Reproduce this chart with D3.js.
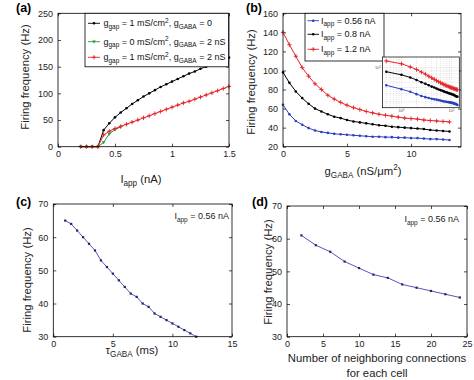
<!DOCTYPE html>
<html>
<head>
<meta charset="utf-8">
<script src="https://cdn.jsdelivr.net/npm/d3@7"></script>
<style>
  body { margin: 0; background: #fff; }
  svg { display: block; font-family: "Liberation Sans", Arial, sans-serif; }
</style>
</head>
<body>
<svg id="fig" width="474" height="380"></svg>
<script>
// ---- panel (a): firing frequency vs I_app ----
const iappA = [0.2, 0.25, 0.3, 0.35, 0.4, 0.45, 0.5, 0.55, 0.6, 0.65, 0.7, 0.75, 0.8, 0.85, 0.9,
    0.95, 1.0, 1.05, 1.1, 1.15, 1.2, 1.25, 1.3, 1.35, 1.4, 1.45, 1.5];
const blackA = [0, 0, 0, 0, 31, 44, 55, 64, 72, 80, 87, 94, 100, 106, 112, 117, 122, 127, 132, 137,
    141, 146, 150, 155, 159, 163, 167];
const redA = [0, 0, 0, 0, 22, 29, 34, 38, 42, 46, 50, 54, 58, 62, 66, 70, 74, 78, 82, 85, 89, 93,
    97, 101, 105, 109, 113];
const iappGreen = [0.2, 0.25, 0.3, 0.35, 0.4, 0.45, 0.5, 0.55];
const greenA = [0, 0, 0, 0, 8, 24, 32, 37];

// ---- panel (b): firing frequency vs g_GABA ----
const gGaba = [0, 0.5, 1, 1.5, 2, 2.5, 3, 3.5, 4, 4.5, 5, 5.5, 6, 6.5, 7, 7.5, 8, 8.5, 9, 9.5,
    10, 10.5, 11, 11.5, 12, 12.5, 13];
const blueB = [64, 54, 47, 43, 39.5, 37, 35.5, 34.5, 33.5, 33, 32.5, 32, 31.5, 31, 30.5, 30.5, 30,
    30, 29.5, 29.5, 29, 29, 28.5, 28, 28, 27.5, 27];
const blackB = [98, 87, 78, 71, 65, 60, 57, 54, 51.5, 50, 48, 46.5, 45.5, 44.5, 43.5, 42.5, 42, 41,
    40.5, 40, 39.5, 39, 38.5, 37.5, 37, 36.5, 36];
const redB = [140, 127, 115, 103, 94, 86, 80, 74, 70, 66.5, 63.5, 61, 59, 57, 55.5, 54, 53, 52, 51,
    50, 49.5, 49, 48, 47.5, 47, 46.5, 46];

// ---- panel (c): firing frequency vs tau_GABA ----
const tauGaba = [1, 1.5, 2, 2.5, 3, 3.5, 4, 4.5, 5, 5.5, 6, 6.5, 7, 7.5, 8, 8.5, 9, 9.5, 10, 10.5,
    11, 11.5, 12];
const freqC = [65, 64, 62, 60, 58, 56, 53, 51, 49, 47, 45, 43, 42, 40, 39, 37, 36, 35, 34, 33, 32,
    31, 30];

// ---- panel (d): firing frequency vs number of connections ----
const nConn = [2, 4, 6, 8, 10, 12, 14, 16, 18, 20, 22, 24];
const freqD = [61, 58, 56, 53, 51, 49, 48, 46, 45, 44, 43, 42];

const svg = d3.select("#fig");
const tickFont = 9, labelFont = 11.3;

// text with sub/superscripts: parts = [[text, "n"|"sub"|"sup"], ...]
const rich = (sel, parts, size) => {
    let shift = 0;
    parts.forEach(([t, k]) => {
        const target = k === "sub" ? size * 0.3 : k === "sup" ? -size * 0.4 : 0;
        sel.append("tspan")
            .attr("dy", target - shift)
            .attr("font-size", k === "n" ? size : size * 0.72)
            .text(t);
        shift = target;
    });
    return sel;
};

const styleAxis = (g) => {
    g.select(".domain").remove();
    g.attr("font-family", null).attr("font-size", tickFont);
    g.selectAll("line").attr("stroke", "#000").attr("stroke-width", 0.7);
    g.selectAll("text").attr("fill", "#222");
};

const panel = (o) => {
    const g = svg.append("g");
    const x = d3.scaleLinear().domain(o.xDomain).range([o.left, o.right]);
    const y = d3.scaleLinear().domain(o.yDomain).range([o.bottom, o.top]);

    g.append("rect")
        .attr("x", o.left).attr("y", o.top)
        .attr("width", o.right - o.left).attr("height", o.bottom - o.top)
        .attr("fill", "#fff");

    // MATLAB-style inward ticks on all four sides
    g.append("g").attr("transform", "translate(0," + o.bottom + ")")
        .call(d3.axisBottom(x).tickValues(o.xTicks).tickFormat(d3.format("")).tickSizeInner(-3).tickSizeOuter(0).tickPadding(4))
        .call(styleAxis);
    g.append("g").attr("transform", "translate(0," + o.top + ")")
        .call(d3.axisTop(x).tickValues(o.xTicks).tickFormat("").tickSizeInner(-3).tickSizeOuter(0))
        .call(styleAxis);
    g.append("g").attr("transform", "translate(" + o.left + ",0)")
        .call(d3.axisLeft(y).tickValues(o.yTicks).tickSizeInner(-3).tickSizeOuter(0).tickPadding(5))
        .call(styleAxis);
    g.append("g").attr("transform", "translate(" + o.right + ",0)")
        .call(d3.axisRight(y).tickValues(o.yTicks).tickFormat("").tickSizeInner(-3).tickSizeOuter(0))
        .call(styleAxis);

    const plot = g.append("g");

    g.append("rect")
        .attr("x", o.left).attr("y", o.top)
        .attr("width", o.right - o.left).attr("height", o.bottom - o.top)
        .attr("fill", "none").attr("stroke", "#000").attr("stroke-width", 0.8);

    // panel letter
    g.append("text").attr("x", o.title[0]).attr("y", o.title[1])
        .attr("font-size", 12.5).attr("font-weight", "bold").text(o.name);

    // y label
    g.append("text")
        .attr("transform", "translate(" + o.yLabelPos[0] + "," + o.yLabelPos[1] + ") rotate(-90)")
        .attr("text-anchor", "middle").attr("dy", "0.35em")
        .attr("font-size", labelFont).attr("fill", "#222")
        .text("Firing frequency (Hz)");

    return { g, plot, x, y };
};

const marker = (sel, type, color) => {
    if (type === "dot") {
        sel.append("circle").attr("r", 1.3).attr("fill", color);
    } else if (type === "plus") {
        sel.append("path").attr("d", "M-2.2,0H2.2M0,-2.2V2.2")
            .attr("stroke", color).attr("stroke-width", 0.9);
        sel.append("circle").attr("r", 0.8).attr("fill", color);
    } else if (type === "tri") {
        sel.append("path").attr("d", "M-1.8,-1.2H1.8L0,1.8Z").attr("fill", color);
    } else if (type === "sq") {
        sel.append("rect").attr("x", -1.1).attr("y", -1.1).attr("width", 2.2).attr("height", 2.2).attr("fill", color);
    }
};

const series = (p, xs, ys, color, type, lineColor, sx, sy) => {
    sx = sx || p.x;
    sy = sy || p.y;
    const pts = xs.map((v, i) => [v, ys[i]]);
    p.plot.append("path")
        .datum(pts)
        .attr("d", d3.line().x(d => sx(d[0])).y(d => sy(d[1])))
        .attr("fill", "none")
        .attr("stroke", lineColor || color)
        .attr("stroke-width", 1);
    p.plot.selectAll(null)
        .data(pts)
        .enter()
        .append("g")
        .attr("transform", d => "translate(" + sx(d[0]) + "," + sy(d[1]) + ")")
        .each(function () { marker(d3.select(this), type, color); });
};

const RED = "#e5262a", GREEN = "#1f9a35", BLUE = "#2b3fc0";

// ===================== (a) =====================
const pa = panel({
    name: "(a)", title: [16, 12],
    left: 58, right: 229, top: 13.3, bottom: 146.7,
    xDomain: [0, 1.5], yDomain: [0, 250],
    xTicks: [0, 0.5, 1, 1.5], yTicks: [0, 50, 100, 150, 200, 250],
    yLabelPos: [25.5, 77]
});
series(pa, iappA, blackA, "#000", "dot");
series(pa, iappGreen, greenA, GREEN, "tri");
series(pa, iappA, redA, RED, "plus");

rich(pa.g.append("text").attr("x", 141).attr("y", 183).attr("text-anchor", "middle").attr("fill", "#222"),
    [["I", "n"], ["app", "sub"], [" (nA)", "n"]], labelFont);

// legend (a)
const legA = pa.g.append("g");
legA.append("rect").attr("x", 85).attr("y", 13.3).attr("width", 143.5).attr("height", 53.5)
    .attr("fill", "#fff").attr("stroke", "#000").attr("stroke-width", 0.8);
const legAItems = [
    { color: "#000", type: "dot", y: 23.3, parts: [["g", "n"], ["gap", "sub"], [" = 1 mS/cm", "n"], ["2", "sup"], [", g", "n"], ["GABA", "sub"], [" = 0", "n"]] },
    { color: GREEN, type: "tri", y: 41.7, parts: [["g", "n"], ["gap", "sub"], [" = 0 mS/cm", "n"], ["2", "sup"], [", g", "n"], ["GABA", "sub"], [" = 2 nS", "n"]] },
    { color: RED, type: "plus", y: 57.3, parts: [["g", "n"], ["gap", "sub"], [" = 1 mS/cm", "n"], ["2", "sup"], [", g", "n"], ["GABA", "sub"], [" = 2 nS", "n"]] }
];
legAItems.forEach(it => {
    legA.append("line").attr("x1", 88).attr("x2", 100).attr("y1", it.y).attr("y2", it.y)
        .attr("stroke", it.color).attr("stroke-width", 0.9);
    marker(legA.append("g").attr("transform", "translate(94," + it.y + ")"), it.type, it.color);
    rich(legA.append("text").attr("x", 103.5).attr("y", it.y + 3).attr("fill", "#111"), it.parts, 9);
});

// ===================== (b) =====================
const pb = panel({
    name: "(b)", title: [246, 12],
    left: 283, right: 461, top: 13.3, bottom: 146.7,
    xDomain: [0, 13.9], yDomain: [20, 160],
    xTicks: [0, 5, 10], yTicks: [20, 40, 60, 80, 100, 120, 140, 160],
    yLabelPos: [251, 82]
});
series(pb, gGaba, blueB, BLUE, "dot");
series(pb, gGaba, blackB, "#000", "dot");
series(pb, gGaba, redB, RED, "plus");

rich(pb.g.append("text").attr("x", 363).attr("y", 175).attr("text-anchor", "middle").attr("fill", "#222"),
    [["g", "n"], ["GABA", "sub"], [" (nS/\u03bcm", "n"], ["2", "sup"], [")", "n"]], labelFont);

// legend (b)
const legB = pb.g.append("g");
legB.append("rect").attr("x", 305).attr("y", 13.3).attr("width", 79).attr("height", 47.7)
    .attr("fill", "#fff").attr("stroke", "#000").attr("stroke-width", 0.8);
const legBItems = [
    { color: BLUE, type: "dot", y: 20.7, label: " = 0.56 nA" },
    { color: "#000", type: "dot", y: 34.3, label: " = 0.8 nA" },
    { color: RED, type: "plus", y: 49.3, label: " = 1.2 nA" }
];
legBItems.forEach(it => {
    legB.append("line").attr("x1", 307.5).attr("x2", 319).attr("y1", it.y).attr("y2", it.y)
        .attr("stroke", it.color).attr("stroke-width", 0.9);
    marker(legB.append("g").attr("transform", "translate(313.2," + it.y + ")"), it.type, it.color);
    rich(legB.append("text").attr("x", 321).attr("y", it.y + 3).attr("fill", "#111"),
        [["I", "n"], ["app", "sub"], [it.label, "n"]], 9);
});

// inset (log-log) in (b)
const inset = { left: 382.5, right: 459.3, top: 57, bottom: 107.7 };
const ix = d3.scaleLog().domain([0.42, 14.2]).range([inset.left, inset.right]);
const iy = d3.scaleLog().domain([24.5, 146]).range([inset.bottom, inset.top]);
const ig = pb.g.append("g");
ig.append("rect").attr("x", inset.left).attr("y", inset.top)
    .attr("width", inset.right - inset.left).attr("height", inset.bottom - inset.top).attr("fill", "#fff");
const gridX = [0.5, 0.6, 0.7, 0.8, 0.9, 1, 2, 3, 4, 5, 6, 7, 8, 9, 10];
const gridY = [30, 40, 50, 60, 70, 80, 90, 100];
ig.selectAll(null).data(gridX).enter().append("line")
    .attr("x1", d => ix(d)).attr("x2", d => ix(d)).attr("y1", inset.top).attr("y2", inset.bottom)
    .attr("stroke", "#bbb").attr("stroke-width", 0.4).attr("stroke-dasharray", "1,1");
ig.selectAll(null).data(gridY).enter().append("line")
    .attr("y1", d => iy(d)).attr("y2", d => iy(d)).attr("x1", inset.left).attr("x2", inset.right)
    .attr("stroke", "#bbb").attr("stroke-width", 0.4).attr("stroke-dasharray", "1,1");
const insetP = { plot: ig.append("g") };
series(insetP, gGaba.slice(1), blueB.slice(1), BLUE, "dot", null, ix, iy);
series(insetP, gGaba.slice(1), blackB.slice(1), "#000", "dot", null, ix, iy);
series(insetP, gGaba.slice(1), redB.slice(1), RED, "plus", null, ix, iy);
ig.append("rect").attr("x", inset.left).attr("y", inset.top)
    .attr("width", inset.right - inset.left).attr("height", inset.bottom - inset.top)
    .attr("fill", "none").attr("stroke", "#000").attr("stroke-width", 0.7);
[[1, "0"], [10, "1"]].forEach(([v, e]) => {
    rich(ig.append("text").attr("x", ix(v)).attr("y", inset.bottom + 4.5).attr("text-anchor", "middle").attr("fill", "#555"),
        [["10", "n"], [e, "sup"]], 4);
});
rich(ig.append("text").attr("x", inset.left - 1.5).attr("y", iy(100) + 1.5).attr("text-anchor", "end").attr("fill", "#555"),
    [["10", "n"], ["2", "sup"]], 4);

// ===================== (c) =====================
const LINE_C = "#5757b8", MARK_C = "#24246e";
const pc = panel({
    name: "(c)", title: [16, 206],
    left: 53.3, right: 232, top: 204, bottom: 336.7,
    xDomain: [0, 15], yDomain: [30, 70],
    xTicks: [0, 5, 10, 15], yTicks: [30, 40, 50, 60, 70],
    yLabelPos: [27, 280]
});
series(pc, tauGaba, freqC, MARK_C, "sq", LINE_C);
rich(pc.g.append("text").attr("x", 229).attr("y", 219).attr("text-anchor", "end").attr("fill", "#222"),
    [["I", "n"], ["app", "sub"], [" = 0.56 nA", "n"]], 9);
rich(pc.g.append("text").attr("x", 132).attr("y", 354).attr("text-anchor", "middle").attr("fill", "#222"),
    [["\u03c4", "n"], ["GABA", "sub"], [" (ms)", "n"]], labelFont);

// ===================== (d) =====================
const pd = panel({
    name: "(d)", title: [252, 206],
    left: 287, right: 467, top: 206, bottom: 336.7,
    xDomain: [0, 25], yDomain: [30, 70],
    xTicks: [0, 5, 10, 15, 20, 25], yTicks: [30, 40, 50, 60, 70],
    yLabelPos: [268, 272]
});
series(pd, nConn, freqD, MARK_C, "sq", LINE_C);
rich(pd.g.append("text").attr("x", 459).attr("y", 222).attr("text-anchor", "end").attr("fill", "#222"),
    [["I", "n"], ["app", "sub"], [" = 0.56 nA", "n"]], 9);
pd.g.append("text").attr("x", 377).attr("y", 362).attr("text-anchor", "middle")
    .attr("font-size", labelFont).attr("fill", "#222").text("Number of neighboring connections");
pd.g.append("text").attr("x", 377).attr("y", 377).attr("text-anchor", "middle")
    .attr("font-size", labelFont).attr("fill", "#222").text("for each cell");
</script>
</body>
</html>
